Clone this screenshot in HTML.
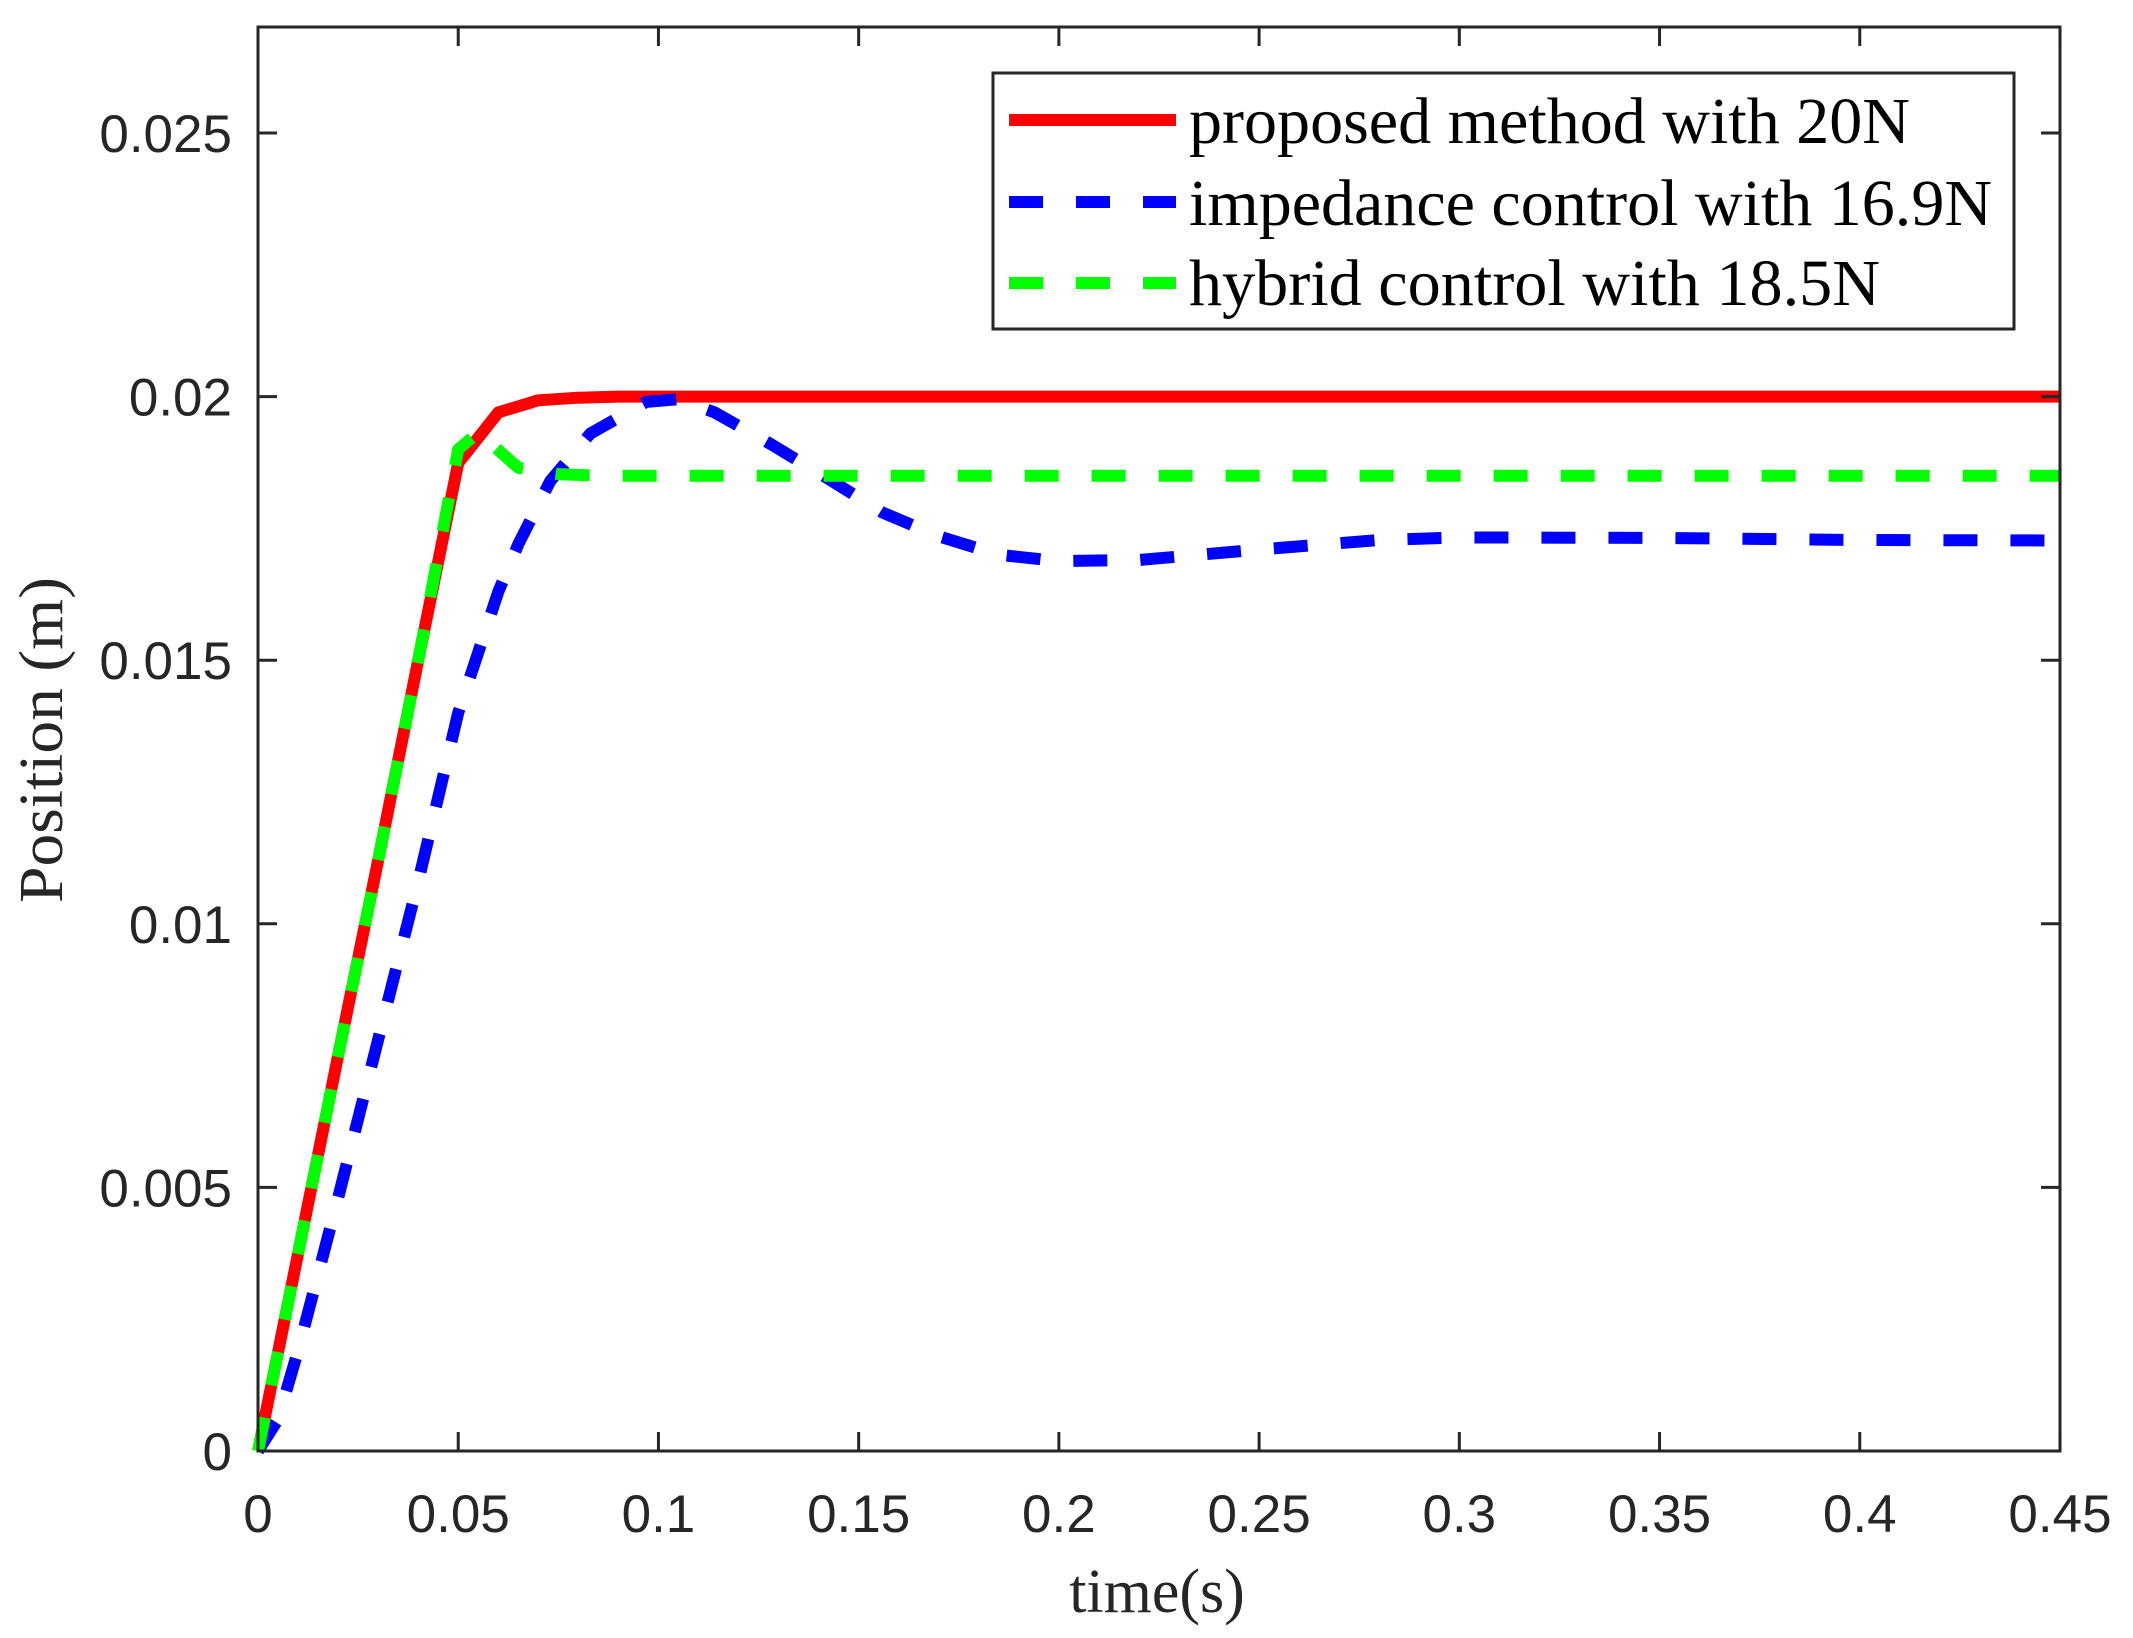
<!DOCTYPE html>
<html><head><meta charset="utf-8"><style>html,body{margin:0;padding:0;background:#fff}svg{display:block}</style></head>
<body>
<svg id="s" width="2133" height="1638" viewBox="0 0 2133 1638" xmlns="http://www.w3.org/2000/svg">
<rect width="2133" height="1638" fill="#fff"/>
<g id="curves" fill="none" stroke-linejoin="round"></g>
<rect x="258" y="27" width="1802" height="1424" fill="none" stroke="#262626" stroke-width="3"/>
<g id="ticks" stroke="#262626" stroke-width="3"></g>
<g id="labels" font-family="Liberation Sans, sans-serif" font-size="53" fill="#262626"></g>
<text x="1157" y="1612" font-family="Liberation Serif, serif" font-size="62" text-anchor="middle" fill="#262626">time(s)</text>
<text transform="translate(62,740) rotate(-90)" font-family="Liberation Serif, serif" font-size="62" text-anchor="middle" fill="#262626" textLength="326" lengthAdjust="spacingAndGlyphs">Position (m)</text>
<rect x="993" y="73" width="1021" height="256" fill="#fff" stroke="#262626" stroke-width="3"/>
<line x1="1009" y1="120" x2="1176" y2="120" stroke="#ff0000" stroke-width="12"/>
<line x1="1009" y1="202" x2="1176" y2="202" stroke="#0000ff" stroke-width="12" stroke-dasharray="34 33"/>
<line x1="1009" y1="283" x2="1176" y2="283" stroke="#00ff00" stroke-width="12" stroke-dasharray="34 33"/>
<g font-family="Liberation Serif, serif" font-size="66" fill="#000">
<text x="1189" y="143" textLength="721" lengthAdjust="spacingAndGlyphs">proposed method with 20N</text>
<text x="1189" y="225" textLength="803" lengthAdjust="spacingAndGlyphs">impedance control with 16.9N</text>
<text x="1189" y="305" textLength="691" lengthAdjust="spacingAndGlyphs">hybrid control with 18.5N</text>
</g>
</svg>
<script>
var X=function(t){return 258+t*4004.4},Y=function(v){return 1451-v*52720};
var ns="http://www.w3.org/2000/svg";
function pl(pts,col,dash){var p=document.createElementNS(ns,"polyline");
p.setAttribute("points",pts.map(function(a){return X(a[0]).toFixed(1)+","+Y(a[1]).toFixed(1)}).join(" "));
p.setAttribute("stroke",col);p.setAttribute("stroke-width","12");if(dash)p.setAttribute("stroke-dasharray",dash);
document.getElementById("curves").appendChild(p);}
var red=[[0,0],[0.01,0.00374],[0.02,0.0075],[0.03,0.0112],[0.04,0.0150],[0.05,0.01874],[0.06,0.0197],[0.07,0.01993],[0.08,0.01998],[0.09,0.02],[0.45,0.02]];
var blue=[[0,0],[0.005,0.0006],[0.01,0.0019],[0.02,0.0048],[0.03,0.0078],[0.04,0.0108],[0.05,0.0140],[0.06,0.0163],[0.065,0.0172],[0.073,0.0184],[0.083,0.0193],[0.097,0.0199],[0.105,0.01995],[0.114,0.0197],[0.128,0.0191],[0.142,0.01846],[0.156,0.0178],[0.17,0.01735],[0.185,0.0170],[0.2,0.01688],[0.22,0.0169],[0.25,0.0171],[0.28,0.01728],[0.3,0.01733],[0.35,0.01732],[0.4,0.01728],[0.45,0.01727]];
var green=[[0,0],[0.01,0.00374],[0.02,0.0075],[0.03,0.0112],[0.04,0.0150],[0.05,0.0190],[0.055,0.01932],[0.065,0.01865],[0.075,0.01853],[0.085,0.0185],[0.45,0.0185]];
pl(red,"#ff0000");pl(blue,"#0000ff","34 33");pl(green,"#00ff00","34 33");
var tk=document.getElementById("ticks"),lb=document.getElementById("labels");
function ln(a,b,c,d){var l=document.createElementNS(ns,"line");l.setAttribute("x1",a);l.setAttribute("y1",b);l.setAttribute("x2",c);l.setAttribute("y2",d);tk.appendChild(l);}
function tx(x,y,s,anc){var t=document.createElementNS(ns,"text");t.setAttribute("x",x);t.setAttribute("y",y);t.setAttribute("text-anchor",anc);t.textContent=s;lb.appendChild(t);}
var xl=["0","0.05","0.1","0.15","0.2","0.25","0.3","0.35","0.4","0.45"];
for(var i=0;i<10;i++){var x=258+i*200.22;ln(x,1451,x,1432);ln(x,27,x,46);tx(x,1532,xl[i],"middle");}
var yl=["0","0.005","0.01","0.015","0.02","0.025"];
for(var j=0;j<6;j++){var y=1451-j*263.6;ln(258,y,277,y);ln(2060,y,2041,y);tx(232,y+19,yl[j],"end");}
</script>
</body></html>
